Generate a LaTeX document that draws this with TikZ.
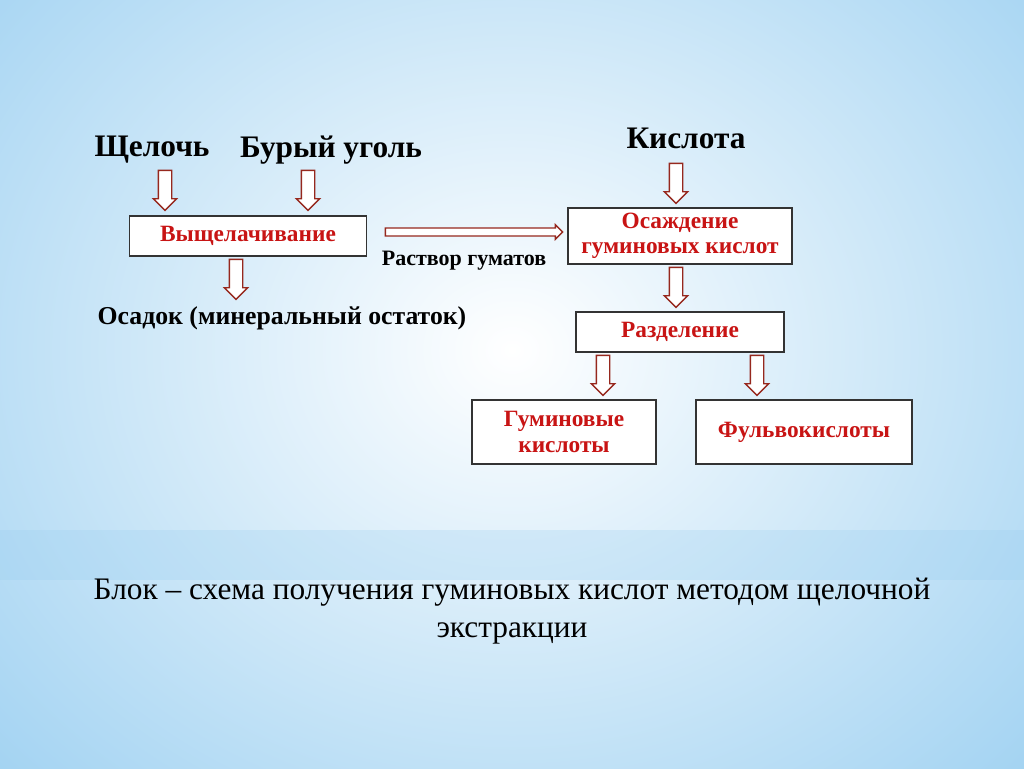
\documentclass[tikz,border=0pt]{standalone}
\usepackage{fontspec}
\setmainfont{Liberation Serif}
\usetikzlibrary{shapes.arrows}
\definecolor{arr}{RGB}{150,40,30}
\definecolor{txtred}{RGB}{200,20,20}
\definecolor{sky}{RGB}{150,205,240}
\begin{document}
\begin{tikzpicture}[x=0.75pt,y=-0.75pt,
  box/.style={draw=black!80,line width=1pt,fill=white,text=txtred,font=\bfseries\fontsize{17.5}{19}\selectfont,align=center,inner sep=0pt},
  barrow/.style={draw=arr,fill=white,line width=1pt,single arrow,single arrow head extend=3.75pt,inner sep=4.5pt,minimum width=0pt,single arrow tip angle=90},
  head/.style={font=\bfseries\fontsize{23.5}{25}\selectfont},
  lbl/.style={font=\bfseries\fontsize{16.5}{18}\selectfont}]
\useasboundingbox (0,0) rectangle (1024,768);
\clip (0,0) rectangle (1024,768);
\fill[sky] (0,0) rectangle (1024,768);
\shade[inner color=white,outer color=sky] (-300,-350) rectangle (1324,1050);
\fill[sky,opacity=0.25] (0,530) rectangle (1024,580);
\node[head] (sch) at (152,150) {Щелочь};
\node[head] (bu) at (331,150) {Бурый уголь};
\node[head] (ki) at (686,138) {Кислота};
\node[box,minimum width=178pt,minimum height=30pt] (vy) at (248,236) {Выщелачивание};
\node[box,minimum width=168pt,minimum height=42pt] (os) at (680,236) {Осаждение\\гуминовых кислот};
\node[box,minimum width=156pt,minimum height=30pt] (ra) at (680,332) {Разделение};
\node[box,minimum width=138pt,minimum height=48pt] (gk) at (564,432) {Гуминовые\\кислоты};
\node[box,minimum width=162pt,minimum height=48pt] (fk) at (804,432) {Фульвокислоты};
\node[lbl] (rg) at (464,261) {Раствор гуматов};
\node[font=\bfseries\fontsize{19.3}{21}\selectfont] (oc) at (282,318) {Осадок (минеральный остаток)};
\node[font=\fontsize{23.5}{28}\selectfont,align=center] (cap) at (512,611) {Блок – схема получения гуминовых кислот методом щелочной\\экстракции};
\node[barrow,rotate=-90,minimum height=30pt] (a1) at (165,187) {};
\node[barrow,rotate=-90,minimum height=30pt] (a2) at (308,187) {};
\node[barrow,rotate=-90,minimum height=30pt] (a3) at (676,180) {};
\node[barrow,rotate=-90,minimum height=30pt] (a4) at (236,276) {};
\node[barrow,rotate=-90,minimum height=30pt] (a5) at (676,284) {};
\node[barrow,rotate=-90,minimum height=30pt] (a6) at (603,372) {};
\node[barrow,rotate=-90,minimum height=30pt] (a7) at (757,372) {};
\node[barrow,minimum height=133pt,inner sep=2.5pt,single arrow head extend=2.5pt] (ah) at (472,232) {};
\end{tikzpicture}
\end{document}
